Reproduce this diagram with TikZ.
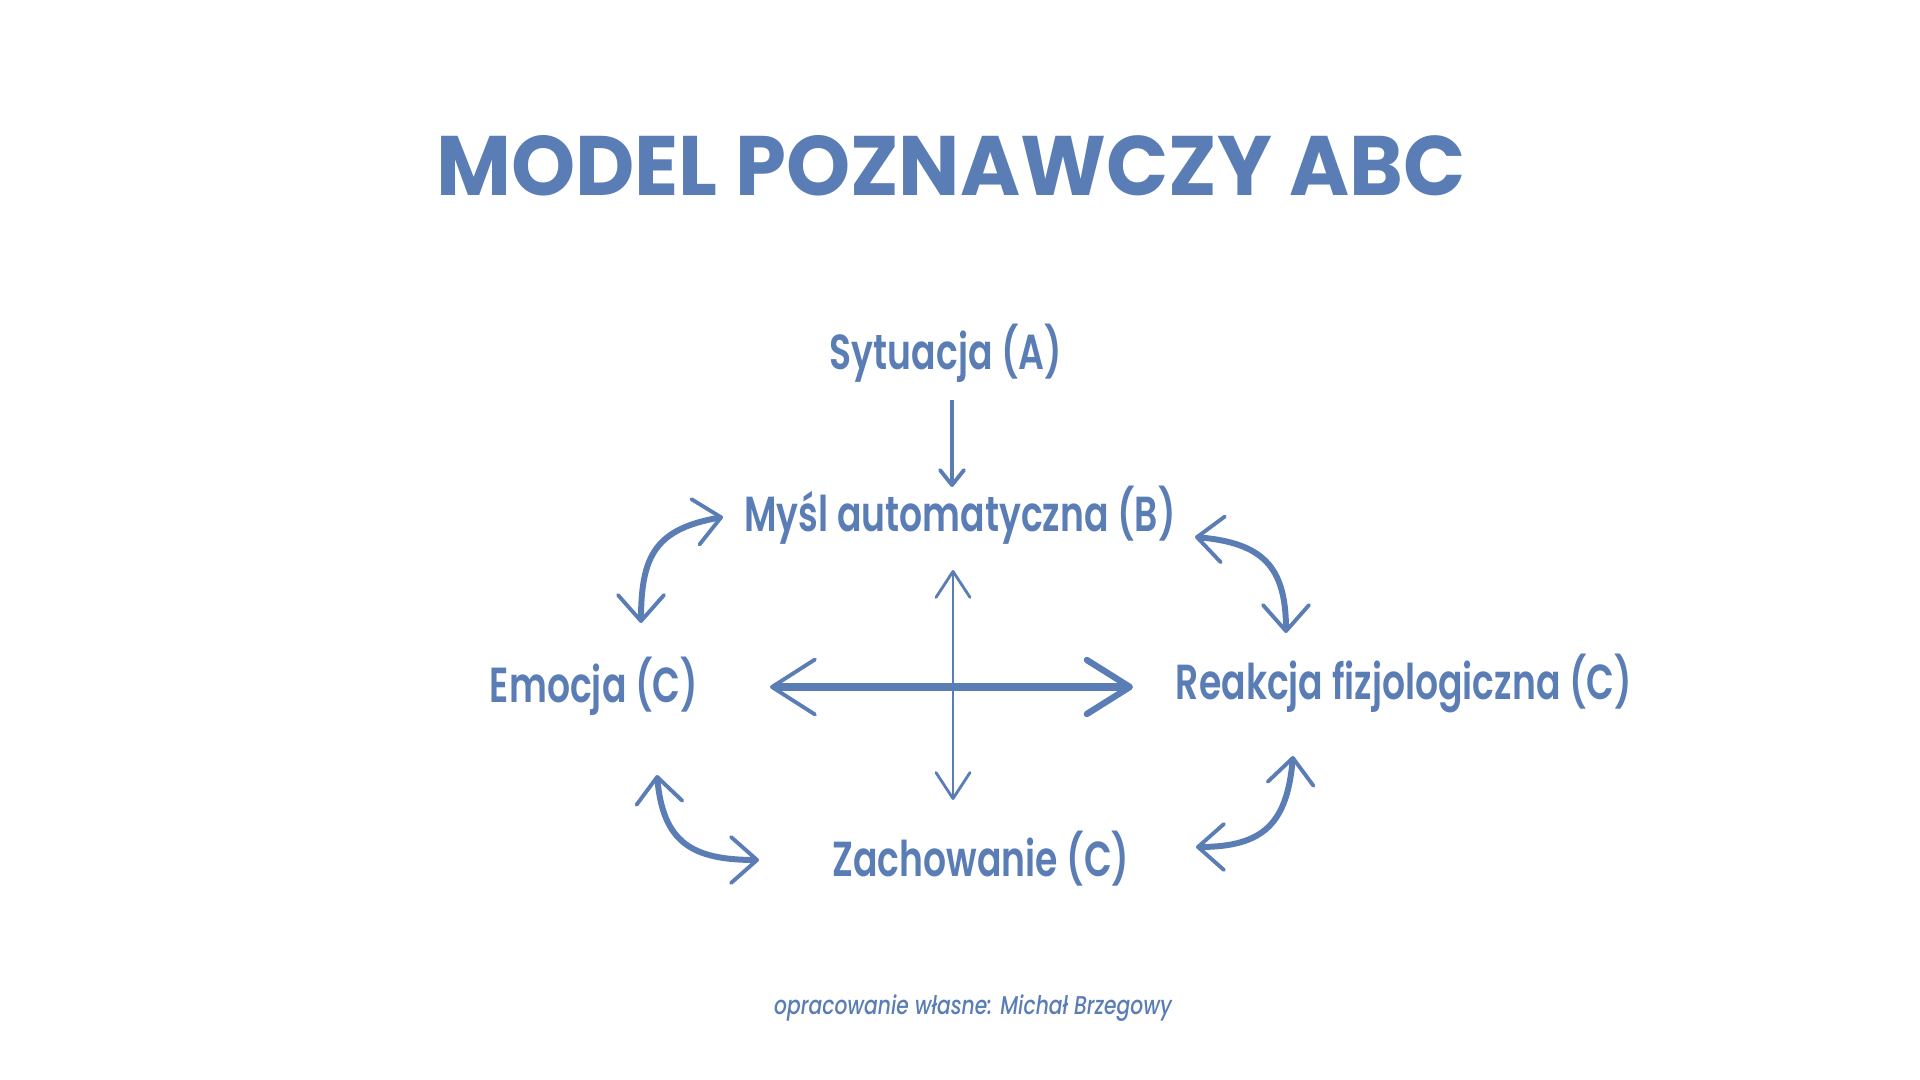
\documentclass[tikz,border=0pt]{standalone}
\usepackage{fontspec}
\usetikzlibrary{arrows.meta}
\newfontfamily\titlefont{Poppins Bold}[FakeStretch=0.968]
\newfontfamily\stagefont{Poppins SemiBold}[FakeStretch=0.735]
\newfontfamily\creditfont{Poppins Medium Italic}[FakeStretch=0.79]
\definecolor{abcblue}{HTML}{5A7DB5}

\begin{document}
\begin{tikzpicture}
\fill[white] (0,0) rectangle (19.2,10.8);
\useasboundingbox (0,0) rectangle (19.2,10.8);
\tikzset{stage/.style ={anchor=base, inner sep=0, text=abcblue, font=\stagefont\fontsize{14}{16}\selectfont}}
\node[anchor=base, inner sep=0, text=abcblue, font=\titlefont\fontsize{24}{28}\selectfont] (title) at (9.51,8.84) {MODEL POZNAWCZY ABC};
\node[stage] (sit) at (9.46,7.10) {Sytuacja (A)};
\node[stage] (mysl) at (9.60,5.48) {Myśl automatyczna (B)};
\node[stage] (emo) at (5.94,3.77) {Emocja (C)};
\node[stage] (reak) at (14.04,3.80) {Reakcja fizjologiczna (C)};
\node[stage] (zach) at (9.81,2.03) {Zachowanie (C)};
\node[anchor=base, inner sep=0, text=abcblue, font=\creditfont\fontsize{7.3}{9}\selectfont] (credit) at (9.73,0.65) {opracowanie własne: Michał Brzegowy};
% arrow ends
\coordinate (s1) at (9.52,6.80);
\coordinate (s2) at (9.52,5.93);
\coordinate (vt) at (9.53,5.10);
\coordinate (vb) at (9.53,2.80);
\coordinate (hl) at (7.70,3.93);
\coordinate (hr) at (11.33,3.93);
\coordinate (tl1) at (6.41,4.57);
\coordinate (tl2) at (7.23,5.63);
\coordinate (tr1) at (11.95,5.43);
\coordinate (tr2) at (12.86,4.47);
\coordinate (bl1) at (6.57,3.05);
\coordinate (bl2) at (7.59,2.20);
\coordinate (br1) at (12.93,3.24);
\coordinate (br2) at (11.96,2.33);
\tikzset{curvy/.style ={draw=abcblue, line width=1.7pt, line cap=round,
  {Straight Barb[length=2.6mm,width=4.6mm,line width=1.1pt,round]}-{Straight Barb[length=2.6mm,width=4.6mm,line width=1.1pt,round]}}}
\draw[draw=abcblue, line width=1.1pt, -{Straight Barb[length=1.5mm,width=2.4mm,round]}] (s1) -- (s2);
\draw[draw=abcblue, line width=0.8pt, {Straight Barb[length=2.6mm,width=3.4mm,round]}-{Straight Barb[length=2.6mm,width=3.4mm,round]}] (vt) -- (vb);
\draw[draw=abcblue, line width=2.2pt, {Straight Barb[length=4.3mm,width=5.5mm,line width=1.1pt,round]}-{Straight Barb[length=4.3mm,width=5.4mm,line width=1.8pt,round]}] (hl) -- (hr);
\draw[curvy] (tl1) to[out=90,in=190,looseness=1.3] (tl2);
\draw[curvy] (tr1) to[out=-5,in=90,looseness=1.3] (tr2);
\draw[curvy] (bl1) to[out=-85,in=180,looseness=1.3] (bl2);
\draw[curvy] (br1) to[out=-95,in=0,looseness=1.3] (br2);
\end{tikzpicture}
\end{document}
